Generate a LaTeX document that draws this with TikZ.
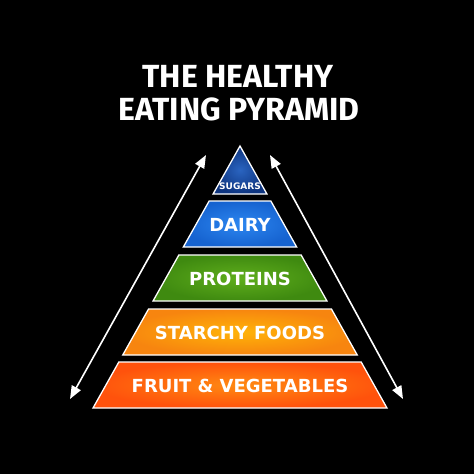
\documentclass[tikz,border=0pt]{standalone}
\usepackage{fontspec}
\setmainfont{Fira Sans}
\newfontfamily\layerfont{DejaVu Sans}
\usetikzlibrary{arrows.meta}
\definecolor{sugarin}{HTML}{2A64C0}
\definecolor{sugarout}{HTML}{0E3580}
\definecolor{dairyin}{HTML}{2C86F0}
\definecolor{dairyout}{HTML}{1663D0}
\definecolor{proteinin}{HTML}{5FAE1C}
\definecolor{proteinout}{HTML}{3F8A10}
\definecolor{starchin}{HTML}{FFB308}
\definecolor{starchout}{HTML}{F7850F}
\definecolor{fruitin}{HTML}{FF8A12}
\definecolor{fruitout}{HTML}{FF520C}
\tikzset{
  layer/.style={draw=white, line width=1.3pt, line join=miter},
  layertext/.style={text=white, inner sep=0pt, anchor=base},
  titletext/.style={text=white, inner sep=0pt, anchor=base,
    font=\fontsize{32}{33}\selectfont\bfseries},
  sidearrow/.style={draw=white, line width=1.6pt,
    {Triangle[width=10pt,length=13pt]}-{Triangle[width=10pt,length=13pt]}}
}
\begin{document}
\begin{tikzpicture}[x=1pt,y=-1pt]
  \fill[black] (0,0) rectangle (474,474);
  \useasboundingbox (0,0) rectangle (474,474);
  % title
  \node[titletext] (titletop) at (238,87) {THE HEALTHY};
  \node[titletext] (titlebottom) at (239,120) {EATING PYRAMID};
  % pyramid layers: name/top/bottom/text baseline/inner/outer/size/text
  \foreach \name/\ytop/\ybot/\ytext/\cin/\cout/\fs/\txt in {
      sugars/146/194/189/sugarin/sugarout/9/SUGARS,
      dairy/201/247/231/dairyin/dairyout/18/DAIRY,
      proteins/255/301/285/proteinin/proteinout/18/PROTEINS,
      starchy/309/355/339/starchin/starchout/18/STARCHY FOODS,
      fruit/362/408/392/fruitin/fruitout/18/{FRUIT \& VEGETABLES}}{
    \pgfmathsetmacro\xtop{0.561*(\ytop-146)}
    \pgfmathsetmacro\xbot{0.561*(\ybot-146)}
    \shade[layer, inner color=\cin, outer color=\cout]
      (240-\xtop,\ytop) -- (240+\xtop,\ytop) -- (240+\xbot,\ybot)
      -- (240-\xbot,\ybot) -- cycle;
    \node[layertext, font=\layerfont\fontsize{\fs}{\fs}\selectfont\bfseries]
      (\name) at (240,\ytext) {\txt};
  }
  % side arrows
  \coordinate (lefttop) at (206,155);
  \coordinate (leftbottom) at (70,399);
  \coordinate (righttop) at (270,155);
  \coordinate (rightbottom) at (403,399);
  \draw[sidearrow] (lefttop) -- (leftbottom);
  \draw[sidearrow] (righttop) -- (rightbottom);
\end{tikzpicture}
\end{document}
